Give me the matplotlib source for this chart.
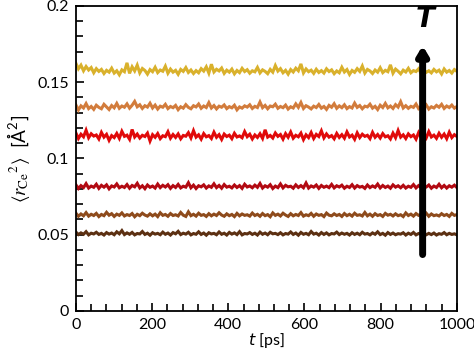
import numpy as np
import matplotlib
matplotlib.use("Agg")
import matplotlib.pyplot as plt
from matplotlib.ticker import MultipleLocator

plt.rcParams['font.family'] = ['Lato', 'DejaVu Sans']
plt.rcParams['mathtext.fontset'] = 'dejavusans'

# ---- data ----
series_yellow = [
0.1625,0.1588,0.1612,0.1575,0.1603,0.1580,0.1596,0.1562,0.1589,0.1571,
0.1584,0.1557,0.1578,0.1566,0.1592,0.1560,0.1575,0.1549,0.1581,0.1569,
0.1627,0.1558,0.1601,0.1574,0.1612,0.1561,0.1590,0.1577,0.1553,0.1583,
0.1569,0.1598,0.1563,0.1580,0.1572,0.1605,0.1559,0.1586,0.1566,0.1578,
0.1552,0.1584,0.1571,0.1596,0.1564,0.1580,0.1557,0.1576,0.1562,0.1589,
0.1573,0.1601,0.1560,0.1618,0.1567,0.1585,0.1574,0.1593,0.1558,0.1579,
0.1566,0.1586,0.1555,0.1577,0.1563,0.1591,0.1570,0.1582,0.1559,0.1575,
0.1568,0.1597,0.1561,0.1581,0.1571,0.1556,0.1584,0.1566,0.1609,0.1573,
0.1589,0.1562,0.1578,0.1553,0.1583,0.1567,0.1592,0.1575,0.1620,0.1561,
0.1587,0.1569,0.1579,0.1558,0.1585,0.1564,0.1576,0.1560,0.1588,0.1570,
0.1581,0.1556,0.1574,0.1562,0.1598,0.1567,0.1583,0.1551,0.1577,0.1565,
0.1589,0.1571,0.1606,0.1560,0.1584,0.1574,0.1557,0.1580,0.1566,0.1595,
0.1563,0.1578,0.1569,0.1614,0.1559,0.1586,0.1572,0.1555,0.1579,0.1567,
0.1591,0.1562,0.1576,0.1570,0.1588,0.1558,0.1582,0.1565,0.1575,0.1561,
0.1584,0.1568,0.1579,0.1554,0.1587,0.1566,0.1577,0.1560,0.1583,0.1571]
series_orange = [
0.1352,0.1318,0.1345,0.1331,0.1360,0.1327,0.1341,0.1322,0.1349,0.1335,
0.1326,0.1355,0.1338,0.1321,0.1347,0.1332,0.1361,0.1329,0.1344,0.1336,
0.1358,0.1330,0.1349,0.1374,0.1339,0.1352,0.1328,0.1346,0.1337,0.1362,
0.1331,0.1350,0.1324,0.1343,0.1336,0.1355,0.1327,0.1341,0.1333,0.1348,
0.1320,0.1339,0.1330,0.1353,0.1335,0.1326,0.1346,0.1338,0.1357,0.1329,
0.1344,0.1334,0.1366,0.1331,0.1347,0.1325,0.1343,0.1336,0.1351,0.1327,
0.1340,0.1332,0.1349,0.1319,0.1338,0.1330,0.1345,0.1337,0.1352,0.1328,
0.1342,0.1334,0.1370,0.1333,0.1348,0.1326,0.1344,0.1339,0.1356,0.1329,
0.1341,0.1333,0.1350,0.1324,0.1339,0.1331,0.1358,0.1335,0.1367,0.1328,
0.1346,0.1337,0.1325,0.1343,0.1334,0.1354,0.1330,0.1341,0.1322,0.1348,
0.1336,0.1359,0.1329,0.1345,0.1333,0.1352,0.1327,0.1340,0.1331,0.1363,
0.1335,0.1347,0.1326,0.1343,0.1338,0.1356,0.1330,0.1342,0.1321,0.1349,
0.1334,0.1361,0.1332,0.1344,0.1328,0.1353,0.1337,0.1372,0.1331,0.1346,
0.1329,0.1342,0.1335,0.1357,0.1327,0.1340,0.1333,0.1351,0.1324,0.1339,
0.1331,0.1348,0.1336,0.1355,0.1328,0.1344,0.1334,0.1350,0.1330,0.1341]
series_red = [
0.1168,0.1131,0.1159,0.1142,0.1185,0.1136,0.1162,0.1147,0.1154,0.1128,
0.1171,0.1140,0.1158,0.1119,0.1150,0.1137,0.1164,0.1132,0.1178,0.1145,
0.1153,0.1126,0.1190,0.1141,0.1160,0.1134,0.1152,0.1144,0.1166,0.1115,
0.1156,0.1139,0.1163,0.1130,0.1149,0.1143,0.1175,0.1133,0.1157,0.1138,
0.1161,0.1129,0.1151,0.1146,0.1169,0.1135,0.1182,0.1140,0.1155,0.1127,
0.1163,0.1142,0.1150,0.1131,0.1172,0.1139,0.1156,0.1125,0.1160,0.1144,
0.1153,0.1130,0.1165,0.1141,0.1148,0.1136,0.1176,0.1143,0.1159,0.1128,
0.1154,0.1138,0.1162,0.1132,0.1188,0.1140,0.1151,0.1134,0.1167,0.1145,
0.1157,0.1127,0.1163,0.1139,0.1173,0.1133,0.1152,0.1142,0.1166,0.1124,
0.1155,0.1137,0.1170,0.1131,0.1158,0.1144,0.1181,0.1135,0.1161,0.1140,
0.1150,0.1129,0.1164,0.1138,0.1156,0.1133,0.1174,0.1141,0.1153,0.1126,
0.1168,0.1137,0.1159,0.1145,0.1152,0.1130,0.1171,0.1139,0.1157,0.1134,
0.1163,0.1142,0.1149,0.1128,0.1166,0.1136,0.1183,0.1140,0.1155,0.1131,
0.1161,0.1143,0.1154,0.1127,0.1169,0.1138,0.1158,0.1135,0.1176,0.1141,
0.1153,0.1132,0.1165,0.1139,0.1160,0.1130,0.1172,0.1137,0.1156,0.1144]
series_darkred = [
0.0828,0.0803,0.0822,0.0809,0.0835,0.0806,0.0819,0.0811,0.0831,0.0804,
0.0824,0.0812,0.0827,0.0801,0.0820,0.0813,0.0833,0.0808,0.0818,0.0810,
0.0829,0.0805,0.0823,0.0814,0.0837,0.0807,0.0821,0.0802,0.0826,0.0811,
0.0819,0.0806,0.0832,0.0809,0.0824,0.0813,0.0828,0.0804,0.0822,0.0810,
0.0830,0.0807,0.0818,0.0812,0.0841,0.0808,0.0825,0.0803,0.0821,0.0814,
0.0827,0.0806,0.0820,0.0811,0.0834,0.0809,0.0823,0.0805,0.0829,0.0812,
0.0818,0.0807,0.0826,0.0810,0.0822,0.0804,0.0831,0.0813,0.0820,0.0808,
0.0825,0.0811,0.0836,0.0806,0.0821,0.0812,0.0828,0.0803,0.0819,0.0809,
0.0833,0.0807,0.0824,0.0814,0.0818,0.0805,0.0827,0.0810,0.0822,0.0808,
0.0839,0.0806,0.0820,0.0812,0.0826,0.0804,0.0823,0.0811,0.0819,0.0809,
0.0830,0.0807,0.0821,0.0813,0.0825,0.0805,0.0818,0.0810,0.0828,0.0806,
0.0822,0.0812,0.0817,0.0804,0.0826,0.0809,0.0820,0.0811,0.0832,0.0807,
0.0823,0.0810,0.0819,0.0805,0.0827,0.0812,0.0821,0.0808,0.0824,0.0806,
0.0818,0.0811,0.0829,0.0807,0.0822,0.0809,0.0820,0.0813,0.0826,0.0805,
0.0819,0.0810,0.0831,0.0808,0.0823,0.0806,0.0821,0.0812,0.0825,0.0809]
series_brown = [
0.0642,0.0621,0.0636,0.0624,0.0645,0.0622,0.0634,0.0626,0.0640,0.0619,
0.0633,0.0625,0.0647,0.0628,0.0638,0.0620,0.0635,0.0627,0.0643,0.0623,
0.0632,0.0626,0.0639,0.0618,0.0634,0.0625,0.0641,0.0629,0.0622,0.0637,
0.0624,0.0635,0.0619,0.0644,0.0627,0.0633,0.0621,0.0639,0.0626,0.0631,
0.0623,0.0646,0.0628,0.0620,0.0650,0.0625,0.0634,0.0622,0.0641,0.0627,
0.0632,0.0620,0.0638,0.0624,0.0635,0.0626,0.0644,0.0629,0.0621,0.0637,
0.0625,0.0633,0.0619,0.0640,0.0624,0.0636,0.0627,0.0631,0.0622,0.0642,
0.0626,0.0634,0.0621,0.0639,0.0625,0.0632,0.0618,0.0643,0.0627,0.0635,
0.0623,0.0641,0.0629,0.0620,0.0638,0.0624,0.0633,0.0626,0.0645,0.0622,
0.0631,0.0625,0.0640,0.0621,0.0636,0.0627,0.0632,0.0619,0.0642,0.0628,
0.0624,0.0637,0.0626,0.0633,0.0620,0.0639,0.0625,0.0634,0.0622,0.0641,
0.0627,0.0631,0.0623,0.0646,0.0624,0.0635,0.0621,0.0638,0.0626,0.0632,
0.0620,0.0640,0.0628,0.0634,0.0623,0.0637,0.0625,0.0631,0.0619,0.0643,
0.0626,0.0635,0.0622,0.0639,0.0627,0.0632,0.0624,0.0641,0.0621,0.0636,
0.0625,0.0630,0.0623,0.0638,0.0626,0.0633,0.0620,0.0640,0.0627,0.0632]
series_darkbrown = [
0.0518,0.0501,0.0512,0.0503,0.0520,0.0499,0.0510,0.0505,0.0516,0.0502,
0.0509,0.0498,0.0514,0.0504,0.0511,0.0500,0.0519,0.0506,0.0527,0.0501,
0.0512,0.0503,0.0515,0.0499,0.0508,0.0505,0.0521,0.0502,0.0510,0.0497,
0.0513,0.0504,0.0509,0.0500,0.0517,0.0503,0.0511,0.0498,0.0514,0.0506,
0.0522,0.0501,0.0510,0.0504,0.0516,0.0499,0.0508,0.0503,0.0519,0.0502,
0.0511,0.0497,0.0513,0.0505,0.0509,0.0500,0.0518,0.0503,0.0510,0.0498,
0.0515,0.0504,0.0512,0.0501,0.0520,0.0499,0.0508,0.0505,0.0514,0.0502,
0.0510,0.0498,0.0517,0.0503,0.0511,0.0500,0.0516,0.0506,0.0509,0.0501,
0.0513,0.0499,0.0508,0.0504,0.0518,0.0502,0.0511,0.0497,0.0515,0.0503,
0.0509,0.0500,0.0521,0.0504,0.0510,0.0498,0.0514,0.0502,0.0512,0.0499,
0.0508,0.0505,0.0517,0.0501,0.0511,0.0503,0.0509,0.0498,0.0513,0.0502,
0.0510,0.0500,0.0516,0.0504,0.0508,0.0499,0.0512,0.0503,0.0519,0.0501,
0.0509,0.0497,0.0514,0.0502,0.0511,0.0500,0.0507,0.0504,0.0513,0.0498,
0.0510,0.0502,0.0515,0.0499,0.0508,0.0503,0.0512,0.0500,0.0509,0.0501,
0.0511,0.0498,0.0507,0.0503,0.0514,0.0500,0.0509,0.0502,0.0506,0.0499]

t_max = 1000
x_ticks = [0, 200, 400, 600, 800, 1000]
y_ticks = [0, 0.05, 0.1, 0.15, 0.2]
y_tick_labels = ['0', '0.05', '0.1', '0.15', '0.2']
arrow_t = 910
arrow_from = 0.037
arrow_to = 0.174

series = [series_yellow, series_orange, series_red,
          series_darkred, series_brown, series_darkbrown]
colors = ['#D9B12C', '#D27C3C', '#E00A0A', '#B20A12', '#8E4B1C', '#5C3012']

fig = plt.figure(figsize=(4.74, 3.51), dpi=100)
ax = fig.add_axes([0.160, 0.114, 0.804, 0.869])

for s, c in zip(series, colors):
    t = np.linspace(0, t_max, len(s))
    ax.plot(t, s, color=c, lw=2.2, solid_joinstyle='miter')

ax.annotate('', xy=(arrow_t, arrow_to), xytext=(arrow_t, arrow_from),
            arrowprops=dict(arrowstyle='-|>,head_width=0.3,head_length=0.5',
                            lw=5, color='black', shrinkA=0, shrinkB=0))
ax.text(arrow_t + 6, 0.1915, 'T', fontsize=20, fontweight='bold', style='italic',
        family='DejaVu Sans', ha='center', va='center')

ax.set_xlim(0, t_max)
ax.set_ylim(0, 0.2)
ax.set_xticks(x_ticks)
ax.set_xticklabels([str(v) for v in x_ticks])
ax.set_yticks(y_ticks)
ax.set_yticklabels(y_tick_labels)
ax.xaxis.set_minor_locator(MultipleLocator(40))
ax.yaxis.set_minor_locator(MultipleLocator(0.01))
ax.tick_params(which='both', direction='in', top=False, right=False,
               labelsize=11.5, width=1.2, colors='black')
ax.tick_params(which='major', length=6, pad=5)
ax.tick_params(which='minor', length=5)
for sp in ax.spines.values():
    sp.set_linewidth(1.3)

ax.set_xlabel(r'$t$ [ps]', fontsize=11.5, labelpad=-1)
ax.set_ylabel(r'$\langle r_{\mathrm{Ce}}{}^{2}\rangle$  [Å$^{\mathregular{2}}$]',
              fontsize=13.5, labelpad=4, math_fontfamily='stix')

fig.savefig('out.png', dpi=100)
